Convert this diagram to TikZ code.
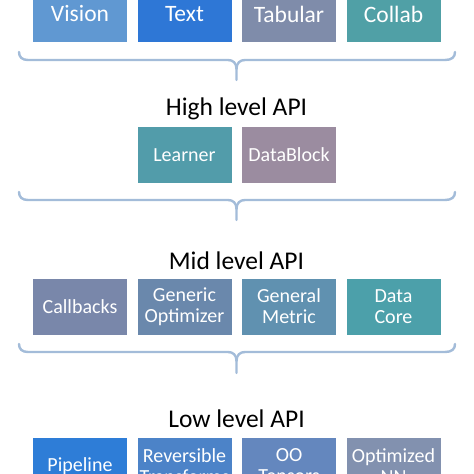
\documentclass[tikz,border=0pt]{standalone}
\usepackage{fontspec}
\setmainfont{Carlito}
\usepackage{tikz}

\definecolor{cVision}{RGB}{96,152,210}
\definecolor{cText}{RGB}{46,119,214}
\definecolor{cTabular}{RGB}{127,140,170}
\definecolor{cCollab}{RGB}{80,160,166}
\definecolor{cLearner}{RGB}{82,156,170}
\definecolor{cDataBlock}{RGB}{155,140,160}
\definecolor{cCallbacks}{RGB}{121,135,170}
\definecolor{cOptimizer}{RGB}{106,136,172}
\definecolor{cMetric}{RGB}{96,145,176}
\definecolor{cCore}{RGB}{76,160,170}
\definecolor{cPipeline}{RGB}{46,125,215}
\definecolor{cReversible}{RGB}{76,131,200}
\definecolor{cTensor}{RGB}{100,135,190}
\definecolor{cOptimized}{RGB}{130,145,175}
\definecolor{cBrace}{RGB}{163,188,217}

\tikzset{
  apibox/.style={fill=#1, text=white, minimum width=94, minimum height=56, inner sep=0pt, align=center},
  apibig/.style={font=\fontsize{23.5}{25}\selectfont},
  apismall/.style={font=\fontsize{20}{21}\selectfont},
  apititle/.style={font=\fontsize{25.5}{27}\selectfont, anchor=base},
  bracket/.style={draw=cBrace, line width=2.4, line cap=round, line join=round}
}

\begin{document}
\begin{tikzpicture}[x=1pt,y=1pt,yscale=-1,xscale=1]
				\useasboundingbox (0,0) rectangle (474,474);
				\clip (0,0) rectangle (474,474);
				
				% Applications
				\node [apibox=cVision, apibig] (vision) at (80,14) {Vision};
				\node [apibox=cText, apibig] (text) at (184.5,14) {Text};
				\node [apibox=cTabular, apibig] (tabular) at (289,14) {Tabular};
				\node [apibox=cCollab, apibig] (collab) at (393.5,14) {Collab};
				% Bracket
				\draw [bracket] (19,52) .. controls (19,57) and (22,60) .. (28,60) -- (228,60) .. controls (233,60) and (236.5,63) .. (236.5,69) -- (236.5,80);
				\draw [bracket] (455,52) .. controls (455,57) and (452,60) .. (445,60) -- (245,60) .. controls (240,60) and (236.5,63) .. (236.5,69);
				
				% High level API
				\node [apititle] (high) at (236.5,115) {High level API};
				\node [apibox=cLearner, apismall] (learner) at (184.5,155) {Learner};
				\node [apibox=cDataBlock, apismall] (datablock) at (289,155) {DataBlock};
				% Bracket
				\draw [bracket] (19,192) .. controls (19,197) and (22,200) .. (28,200) -- (228,200) .. controls (233,200) and (236.5,203) .. (236.5,209) -- (236.5,220);
				\draw [bracket] (455,192) .. controls (455,197) and (452,200) .. (445,200) -- (245,200) .. controls (240,200) and (236.5,203) .. (236.5,209);
				
				% Mid level API
				\node [apititle] (mid) at (236.5,269) {Mid level API};
				\node [apibox=cCallbacks, apismall] (callbacks) at (80,306.5) {Callbacks};
				\node [apibox=cOptimizer, apismall] (optimizer) at (184.5,306.5) {Generic\\Optimizer};
				\node [apibox=cMetric, apismall] (metric) at (289,306.5) {General\\Metric};
				\node [apibox=cCore, apismall] (core) at (393.5,306.5) {Data\\Core};
				% Bracket
				\draw [bracket] (19,344) .. controls (19,349) and (22,352) .. (28,352) -- (228,352) .. controls (233,352) and (236.5,355) .. (236.5,361) -- (236.5,373);
				\draw [bracket] (455,344) .. controls (455,349) and (452,352) .. (445,352) -- (245,352) .. controls (240,352) and (236.5,355) .. (236.5,361);
				
				% Low level API
				\node [apititle] (low) at (236.5,427) {Low level API};
				\node [apibox=cPipeline, apismall] (pipeline) at (80,466) {Pipeline};
				\node [apibox=cReversible, apismall] (reversible) at (184.5,466) {Reversible\\Transforms};
				\node [apibox=cTensor, apismall] (tensor) at (289,466) {OO\\Tensors};
				\node [apibox=cOptimized, apismall] (optimized) at (393.5,466) {Optimized\\NN};
				
				\end{tikzpicture}
\end{document}
